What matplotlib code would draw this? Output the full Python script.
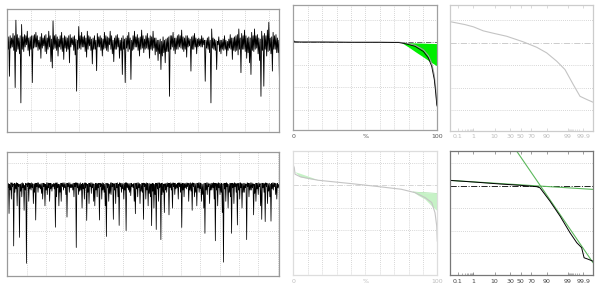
import numpy as np
import matplotlib
matplotlib.use("Agg")
import matplotlib.pyplot as plt
from matplotlib.ticker import FixedLocator
from math import erf

# ---------------- data ----------------
# top-left series: zigzag of upper / lower values, one pair every 6 samples
ts_top_step = 3
ts_top_hi = [
    0.15, 0.25, 0.3, 0.2, 0.4, 0.3, 0.99, 0.35, 0.2, 0.3, 0.8, 0.25, 0.35, 0.3, 0.5, 0.2, 0.25, 0.3, 0.3, 0.35,
    0.45, 0.3, 0.1, 0.25, 0.4, 0.2, 0.3, 0.35, 0.2, 0.5, 0.3, 0.15, 0.96, 0.3, 0.35, 0.25, 0.15, 0.3, 0.45, 0.2,
    0.3, 0.25, 0.2, 0.3, 0.35, 0.2, 0.25, 0.3, 0.15, 0.1, 0.71, 0.3, 0.45, 0.25, 0.3, 0.2, 0.5, 0.3, 0.25, 0.15,
    0.2, 0.3, 0.1, 0.4, 0.25, 0.3, 0.2, 0.15, 0.45, 0.3, 0.25, 0.2, 0.5, 0.3, 0.1, 0.2, 0.3, 0.35, 0.2, 0.1,
    0.2, 0.3, 0.15, 0.2, 0.3, 0.45, 0.2, 0.1, 0.3, 0.5, 0.25, 0.35, 0.2, 0.25, 0.55, 0.3, 0.15, 0.3, 0.4, 0.2,
    0.3, 0.25, 0.5, 0.2, 0.2, 0.1, 0.1, 0.15, 0.05, 0.25, 0.1, 0.15, 0.2, 0.25, 0.3, 0.3, 0.45, 0.2, 0.2, 0.3,
    0.35, 0.3, 0.55, 0.25, 0.2, 0.3, 0.3, 0.2, 0.15, 0.25, 0.3, 0.4, 0.2, 0.15, 0.2, 0.15, 0.3, 0.2, 0.1, 0.1,
    0.2, 0.25, 0.1, 0.6, 0.2, 0.15, 0.1, 0.05, 0.25, 0.1, 0.1, 0.15, 0.3, 0.1, 0.05, 0.15, 0.35, 0.2, 0.2, 0.25,
    0.3, 0.35, 0.6, 0.2, 0.4, 0.3, 0.55, 0.3, 0.2, 0.25, 0.2, 0.45, 0.3, 0.6, 0.3, 0.35, 0.2, 0.15, 0.5, 0.3,
    0.4, 0.3, 0.55, 0.9, 0.2, 0.25, 0.45, 0.3, 0.35, 0.2, 0.1,
]
ts_top_lo = [
    -0.3, -1.5, -0.25, -0.2, -0.35, -2.0, -0.4, -0.3, -0.5, -2.68, -0.3, -0.4, -0.2, -0.1, -0.35, -0.6, -0.3, -1.78, -0.25, -0.2,
    -0.2, -0.35, -0.3, -0.7, -0.25, -0.15, -0.4, -0.5, -0.3, -0.2, -0.85, -1.13, -0.3, -0.25, -0.35, -0.6, -0.2, -0.3, -0.4, -0.75,
    -0.25, -0.4, -0.3, -0.9, -0.2, -0.1, -0.35, -0.55, -2.16, -0.3, -0.25, -0.3, -0.2, -0.2, -0.4, -0.65, -0.3, -0.15, -0.35, -0.95,
    -0.3, -0.3, -1.25, -0.2, -0.2, -0.35, -0.6, -0.3, -0.25, -0.35, -0.4, -0.1, -0.3, -0.5, -0.85, -0.3, -0.3, -0.2, -0.7, -0.35,
    -1.42, -0.3, -1.78, -0.25, -0.4, -0.3, -1.64, -0.35, -0.3, -0.2, -0.2, -0.35, -0.6, -0.3, -0.25, -0.45, -0.3, -0.25, -0.3, -0.7,
    -0.3, -0.35, -0.25, -0.55, -0.4, -0.8, -0.5, -1.2, -0.6, -0.45, -0.9, -0.4, -0.4, -2.39, -0.3, -0.2, -0.35, -0.5, -0.3, -0.3,
    -0.2, -0.25, -0.3, -0.4, -0.3, -0.65, -0.2, -0.15, -1.27, -0.3, -0.3, -0.2, -0.5, -0.2, -0.15, -0.2, -0.2, -0.1, -1.72, -0.25,
    -0.3, -0.45, -2.68, -0.25, -0.3, -0.35, -1.2, -0.1, -0.4, -0.5, -0.3, -0.35, -0.3, -0.6, -0.35, -0.25, -0.3, -0.75, -0.35, -0.4,
    -0.35, -0.55, -0.3, -1.34, -0.3, -0.3, -0.4, -0.7, -0.45, -0.9, -1.42, -0.35, -0.4, -0.3, -0.25, -0.5, -0.8, -2.39, -0.35, -1.94,
    -0.3, -0.6, -0.4, -0.35, -0.5, -1.27, -0.3, -0.3, -0.45, -0.45, -1.92,
]
ts_top_len = 1142

# bottom-left series: zigzag of upper / lower values, one pair every 6 samples
ts_bot_step = 3
ts_bot_hi = [
    0.1, 0.08, 0.05, 0.12, 0.12, 0.06, 0.1, 0.08, 0.12, 0.1, 0.05, 0.05, 0.1, 0.12, 0.08, 0.0, 0.1, 0.08, 0.12, 0.1,
    0.1, 0.12, 0.08, 0.05, 0.1, 0.1, 0.12, 0.12, 0.06, 0.08, 0.1, 0.1, 0.08, 0.05, 0.12, 0.12, 0.1, 0.1, 0.08, 0.06,
    0.1, 0.08, 0.12, 0.12, 0.06, 0.05, 0.1, 0.1, 0.12, 0.12, 0.08, 0.1, 0.1, 0.12, 0.12, 0.06, 0.08, 0.1, 0.1, 0.12,
    0.12, 0.1, 0.08, 0.12, 0.06, 0.1, 0.08, 0.12, 0.1, 0.05, 0.1, 0.1, 0.12, 0.12, 0.08, 0.06, 0.1, 0.1, 0.08, 0.1,
    0.1, 0.08, 0.12, 0.1, 0.06, 0.1, 0.1, 0.08, 0.05, 0.12, 0.12, 0.1, 0.08, 0.1, 0.1, 0.12, 0.06, 0.12, 0.1, 0.1,
    0.08, 0.1, 0.12, 0.12, 0.1, 0.08, 0.1, 0.1, 0.06, 0.08, 0.1, 0.1, 0.12, 0.12, 0.08, 0.05, 0.1, 0.1, 0.1, 0.08,
    0.12, 0.1, 0.08, 0.1, 0.06, 0.1, 0.08, 0.05, 0.1, 0.1, 0.12, 0.12, 0.08, 0.1, 0.1, 0.06, 0.08, 0.1, 0.12, 0.1,
    0.1, 0.12, 0.08, 0.12, 0.1, 0.1, 0.06, 0.1, 0.12, 0.12, 0.08, 0.1, 0.1, 0.08, 0.1, 0.12, 0.1, 0.1, 0.12, 0.08,
    0.12, 0.1, 0.08, 0.1, 0.1, 0.12, 0.12, 0.1, 0.05, 0.08, 0.1, 0.1, 0.12, 0.12, 0.08, 0.08, 0.1, 0.1, 0.12, 0.1,
    0.1, 0.08, 0.12, 0.1, 0.08, 0.1, 0.06, 0.1, 0.1, 0.12, 0.08, 0.05, 0.1, 0.1, 0.1, 0.08, 0.12, 0.1, 0.08, 0.1,
    0.1, 0.12, 0.08, 0.08, 0.1, 0.1, 0.06, 0.12, 0.1, 0.1, 0.12, 0.12, 0.08, 0.05, 0.1, 0.1, 0.1, 0.12, 0.08, 0.1,
    0.1, 0.1, 0.08, 0.12, 0.1, 0.08, 0.1, 0.06, 0.1, 0.12, 0.12, 0.1, 0.08, 0.1, 0.05,
]
ts_bot_lo = [
    -0.1, -1.24, -0.2, -0.6, -0.05, -2.68, -0.3, -0.15, -0.9, -0.05, -2.3, -0.25, -0.5, -0.1, -1.1, -0.2, -3.45, -0.05, -0.7, -0.15,
    -0.2, -0.1, -0.8, -0.3, -1.53, -0.05, -0.3, -0.1, -0.15, -0.35, -0.6, -0.05, -0.9, -0.2, -0.4, -0.1, -0.7, -0.15, -0.25, -0.05,
    -0.15, -1.85, -0.5, -0.1, -0.9, -0.3, -0.7, -0.05, -0.2, -0.1, -0.4, -1.4, -0.05, -0.3, -0.1, -0.1, -0.2, -0.5, -0.05, -2.75,
    -0.1, -0.4, -0.25, -0.2, -1.0, -0.15, -0.6, -0.1, -1.55, -0.3, -0.8, -0.05, -0.35, -0.1, -0.7, -0.9, -0.2, -0.5, -0.1, -1.53,
    -0.05, -0.6, -0.2, -0.3, -0.9, -2.26, -0.1, -0.7, -0.35, -0.4, -0.05, -1.5, -0.2, -0.8, -0.1, -0.5, -1.77, -0.05, -0.3, -0.15,
    -0.6, -0.2, -2.0, -0.1, -0.2, -0.3, -0.45, -0.05, -0.1, -0.7, -1.25, -0.15, -0.5, -0.1, -0.8, -0.25, -0.3, -1.5, -0.05, -0.6,
    -0.2, -0.9, -0.35, -0.5, -1.78, -0.25, -1.0, -0.4, -1.95, -0.15, -0.7, -0.1, -2.4, -0.4, -0.3, -1.2, -0.2, -0.3, -0.05, -1.3,
    -0.1, -0.2, -1.0, -0.05, -0.4, -0.15, -0.1, -0.6, -0.05, -0.3, -1.86, -0.2, -0.5, -0.1, -0.15, -0.05, -0.7, -0.2, -0.25, -1.1,
    -0.05, -0.5, -0.3, -0.9, -0.1, -0.3, -0.15, -0.7, -0.4, -1.0, -2.12, -0.2, -0.4, -0.05, -0.8, -0.2, -0.2, -0.1, -0.6, -2.45,
    -0.2, -0.9, -0.1, -0.4, -0.3, -1.2, -3.4, -0.15, -0.7, -0.05, -1.0, -0.3, -0.5, -2.12, -0.1, -0.8, -0.05, -0.3, -1.75, -0.2,
    -0.6, -0.1, -1.0, -0.3, -0.3, -0.1, -2.4, -0.05, -0.5, -0.2, -0.2, -0.1, -1.3, -0.35, -0.7, -0.15, -0.4, -0.05, -0.9, -1.5,
    -0.1, -0.3, -1.6, -0.05, -0.8, -0.25, -0.5, -1.58, -0.15, -0.2, -0.05, -0.4, -0.6, -0.1, -0.1,
]
ts_bot_len = 1408

# top-middle: sorted curve vs %
pct_tm = [0, 1, 5, 20, 40, 60, 72.9, 77.6, 84.5, 90.3, 93.8, 96.1, 97.9, 98.9, 99.6, 100]
val_tm = [0.1, 0.03, 0.02, 0.02, 0.01, 0.01, 0.0, -0.05, -0.17, -0.4, -0.69, -1.06, -1.65, -2.25, -2.77, -2.85]
val_tm2 = [0.08, 0.03, 0.02, 0.02, 0.01, 0.01, 0.01, -0.02, -0.12, -0.32, -0.58, -0.92, -1.45, -2.05, -2.6, -2.8]
pct_tm_band = [75, 80, 85, 90, 95, 100]
band_tm_hi = [0.0, -0.01, -0.02, -0.03, -0.04, -0.05]
band_tm_lo = [0.0, -0.2, -0.42, -0.63, -0.85, -1.05]

# bottom-middle
pct_bm = [0, 0.7, 1.2, 5, 17.3, 40.4, 58.9, 75, 84.5, 91.5, 96.1, 98.4, 99.6, 100]
val_bm = [0.9, 0.79, 0.5, 0.38, 0.23, 0.08, -0.05, -0.17, -0.32, -0.54, -0.76, -1.21, -1.8, -2.47]
pct_bm_wl = [0.7, 5, 10, 17.3]
wl_hi = [0.62, 0.53, 0.42, 0.25]
wl_lo = [0.62, 0.38, 0.31, 0.25]
pct_bm_wr = [83.3, 87, 91.5, 96.1, 100]
wr_hi = [-0.29, -0.31, -0.32, -0.34, -0.36]
wr_lo = [-0.29, -0.45, -0.61, -0.91, -1.13]

# top-right: normal probability plot (x in %)
prob_tr = [0.025, 0.3, 0.99, 3.29, 10, 24.5, 55.2, 78.5, 90.0, 96.2, 98.54, 99.52, 99.825, 99.942, 99.981]
val_tr = [0.93, 0.8, 0.70, 0.52, 0.4, 0.28, 0.03, -0.21, -0.46, -0.83, -1.2, -1.87, -2.39, -2.53, -2.65]

# bottom-right
prob_br = [0.025, 0.94, 15.4, 50, 78.5, 82.9, 92.5, 97.38, 99.245, 99.711, 99.865, 99.910, 99.957, 99.981]
val_br = [0.23, 0.16, 0.07, 0.01, -0.05, -0.1, -0.69, -1.36, -2.1, -2.54, -2.76, -3.21, -3.28, -3.36]
fit1_prob = [0.025, 99.981]
fit1_val = [0.23, -0.17]
fit2_prob = [30.85, 99.981]
fit2_val = [1.93, -3.42]

prob_ticks = [0.1, 1, 10, 30, 50, 70, 90, 99, 99.9]
prob_labels = ["0.1", "1", "10", "30", "50", "70", "90", "99", "99.9"]
prob_minor = [0.2, 0.3, 0.4, 0.5, 0.6, 0.7, 0.8, 0.9, 99.1, 99.2, 99.3, 99.4, 99.5, 99.6, 99.7, 99.8]
pct_labels = ["0", "%", "100"]

# ---------------- helpers ----------------
fig = plt.figure(figsize=(6, 2.92), dpi=100)
W, H = 600, 292


def add_ax(x0, y0, x1, y1):
    return fig.add_axes([x0 / W, 1 - y1 / H, (x1 - x0) / W, (y1 - y0) / H])


def zigzag(hi, lo):
    out = np.empty(2 * len(hi))
    out[0::2] = hi
    out[1::2] = lo
    return out


zg = np.linspace(-6, 6, 24001)
cg = 0.5 * (1 + np.vectorize(erf)(zg / np.sqrt(2)))


def fwd(p):
    q = np.clip(np.asarray(p, dtype=float) / 100.0, cg[0], cg[-1])
    return np.interp(q, cg, zg)


def inv(z):
    return 100.0 * np.interp(np.asarray(z, dtype=float), zg, cg)


GRID = dict(color="#c9c9c9", linestyle=(0, (1, 1.5)), linewidth=0.6)


def frame(ax, color, lw=0.9):
    for s in ax.spines.values():
        s.set_color(color)
        s.set_linewidth(lw)


def series_axes(box, series, step, length, ylim, lw):
    ax = add_ax(*box)
    x = np.arange(len(series)) * step
    ax.plot(x, series, color="black", lw=lw)
    ax.set_xlim(0, length)
    ax.set_ylim(*ylim)
    ax.set_xticks(np.arange(100, length, 100))
    ax.set_yticks([1, 0, -1, -2, -3])
    ax.tick_params(length=0, labelbottom=False, labelleft=False)
    ax.grid(True, **GRID)
    ax.set_axisbelow(True)
    frame(ax, "#9a9a9a")
    return ax


# ---------------- left column ----------------
series_axes((7.3, 8.7, 279.3, 131.7), zigzag(ts_top_hi, ts_top_lo), ts_top_step,
            ts_top_len, (-3.96, 1.5), 0.6)
series_axes((7.3, 151.7, 279.3, 275.7), zigzag(ts_bot_hi, ts_bot_lo), ts_bot_step,
            ts_bot_len, (-4.0, 1.5), 0.55)


def middle(ax, ylim, lab_color, spine_color):
    ax.set_xlim(0, 100)
    ax.set_ylim(*ylim)
    ax.set_xticks([0, 50, 100], pct_labels)
    ax.xaxis.set_minor_locator(FixedLocator(np.arange(10, 100, 10)))
    ax.set_yticks([1, -1, -2, -3])
    ax.tick_params(which="both", length=0, labelleft=False, labelsize=4.5,
                   labelcolor=lab_color, pad=3)
    ax.grid(True, which="both", **GRID)
    ax.set_axisbelow(True)
    frame(ax, spine_color)


# ---------------- top-middle ----------------
ax = add_ax(293.3, 4.7, 437.3, 130)
middle(ax, (-3.89, 1.68), "#555555", "#a0a0a0")
ax.axhline(0, color="#555555", lw=0.6, linestyle="-.")
ax.fill_between(pct_tm_band, band_tm_hi, band_tm_lo, color="#00ee00", lw=0)
ax.plot(pct_tm, val_tm2, color="#a0a0a0", lw=0.8)
ax.plot(pct_tm, val_tm, color="black", lw=0.6)

# ---------------- bottom-middle ----------------
ax = add_ax(293.3, 151, 437.3, 275)
middle(ax, (-3.98, 1.53), "#bdbdbd", "#dddddd")
ax.axhline(0, color="#cfcfcf", lw=0.6, linestyle="-.")
ax.fill_between(pct_bm_wl, wl_hi, wl_lo, color="#c6f2c6", lw=0)
ax.fill_between(pct_bm_wr, wr_hi, wr_lo, color="#c6f2c6", lw=0)
ax.plot(pct_bm_wr, wr_hi, color="#b5e8b5", lw=0.6)
ax.plot(pct_bm, val_bm, color="#c4c4c4", lw=0.8)


def right(ax, ylim, lab_color, spine_color, zero_color):
    ax.set_xscale("function", functions=(fwd, inv))
    ax.set_xlim(float(inv(-3.48)), float(inv(3.56)))
    ax.set_ylim(*ylim)
    ax.xaxis.set_major_locator(FixedLocator(prob_ticks))
    ax.xaxis.set_minor_locator(FixedLocator(prob_minor))
    ax.set_xticklabels(prob_labels)
    ax.xaxis.set_minor_formatter(plt.NullFormatter())
    ax.set_yticks([1, -1, -2, -3])
    ax.tick_params(axis="x", which="major", direction="in", length=2.5, width=0.5,
                   color=spine_color, top=True, labelsize=4.5, labelcolor=lab_color, pad=2.5)
    ax.tick_params(axis="x", which="minor", direction="in", length=1.2, width=0.4,
                   color=spine_color, top=False)
    ax.tick_params(axis="y", length=0, labelleft=False)
    ax.grid(True, axis="y", **GRID)
    ax.set_axisbelow(True)
    ax.axhline(0, color=zero_color, lw=0.7, linestyle="-.")
    frame(ax, spine_color)


# ---------------- top-right ----------------
ax = add_ax(450, 5, 593, 130.7)
right(ax, (-3.92, 1.67), "#bdbdbd", "#cccccc", "#cccccc")
ax.plot(prob_tr, val_tr, color="#c4c4c4", lw=0.8)

# ---------------- bottom-right ----------------
ax = add_ax(450, 150.7, 593, 275.3)
right(ax, (-3.99, 1.55), "#444444", "#777777", "#222222")
ax.plot(fit1_prob, fit1_val, color="#5cb85c", lw=0.8)
ax.plot(fit2_prob, fit2_val, color="#5cb85c", lw=0.8)
ax.plot(prob_br, val_br, color="black", lw=0.7)

fig.savefig("out.png", dpi=100)
